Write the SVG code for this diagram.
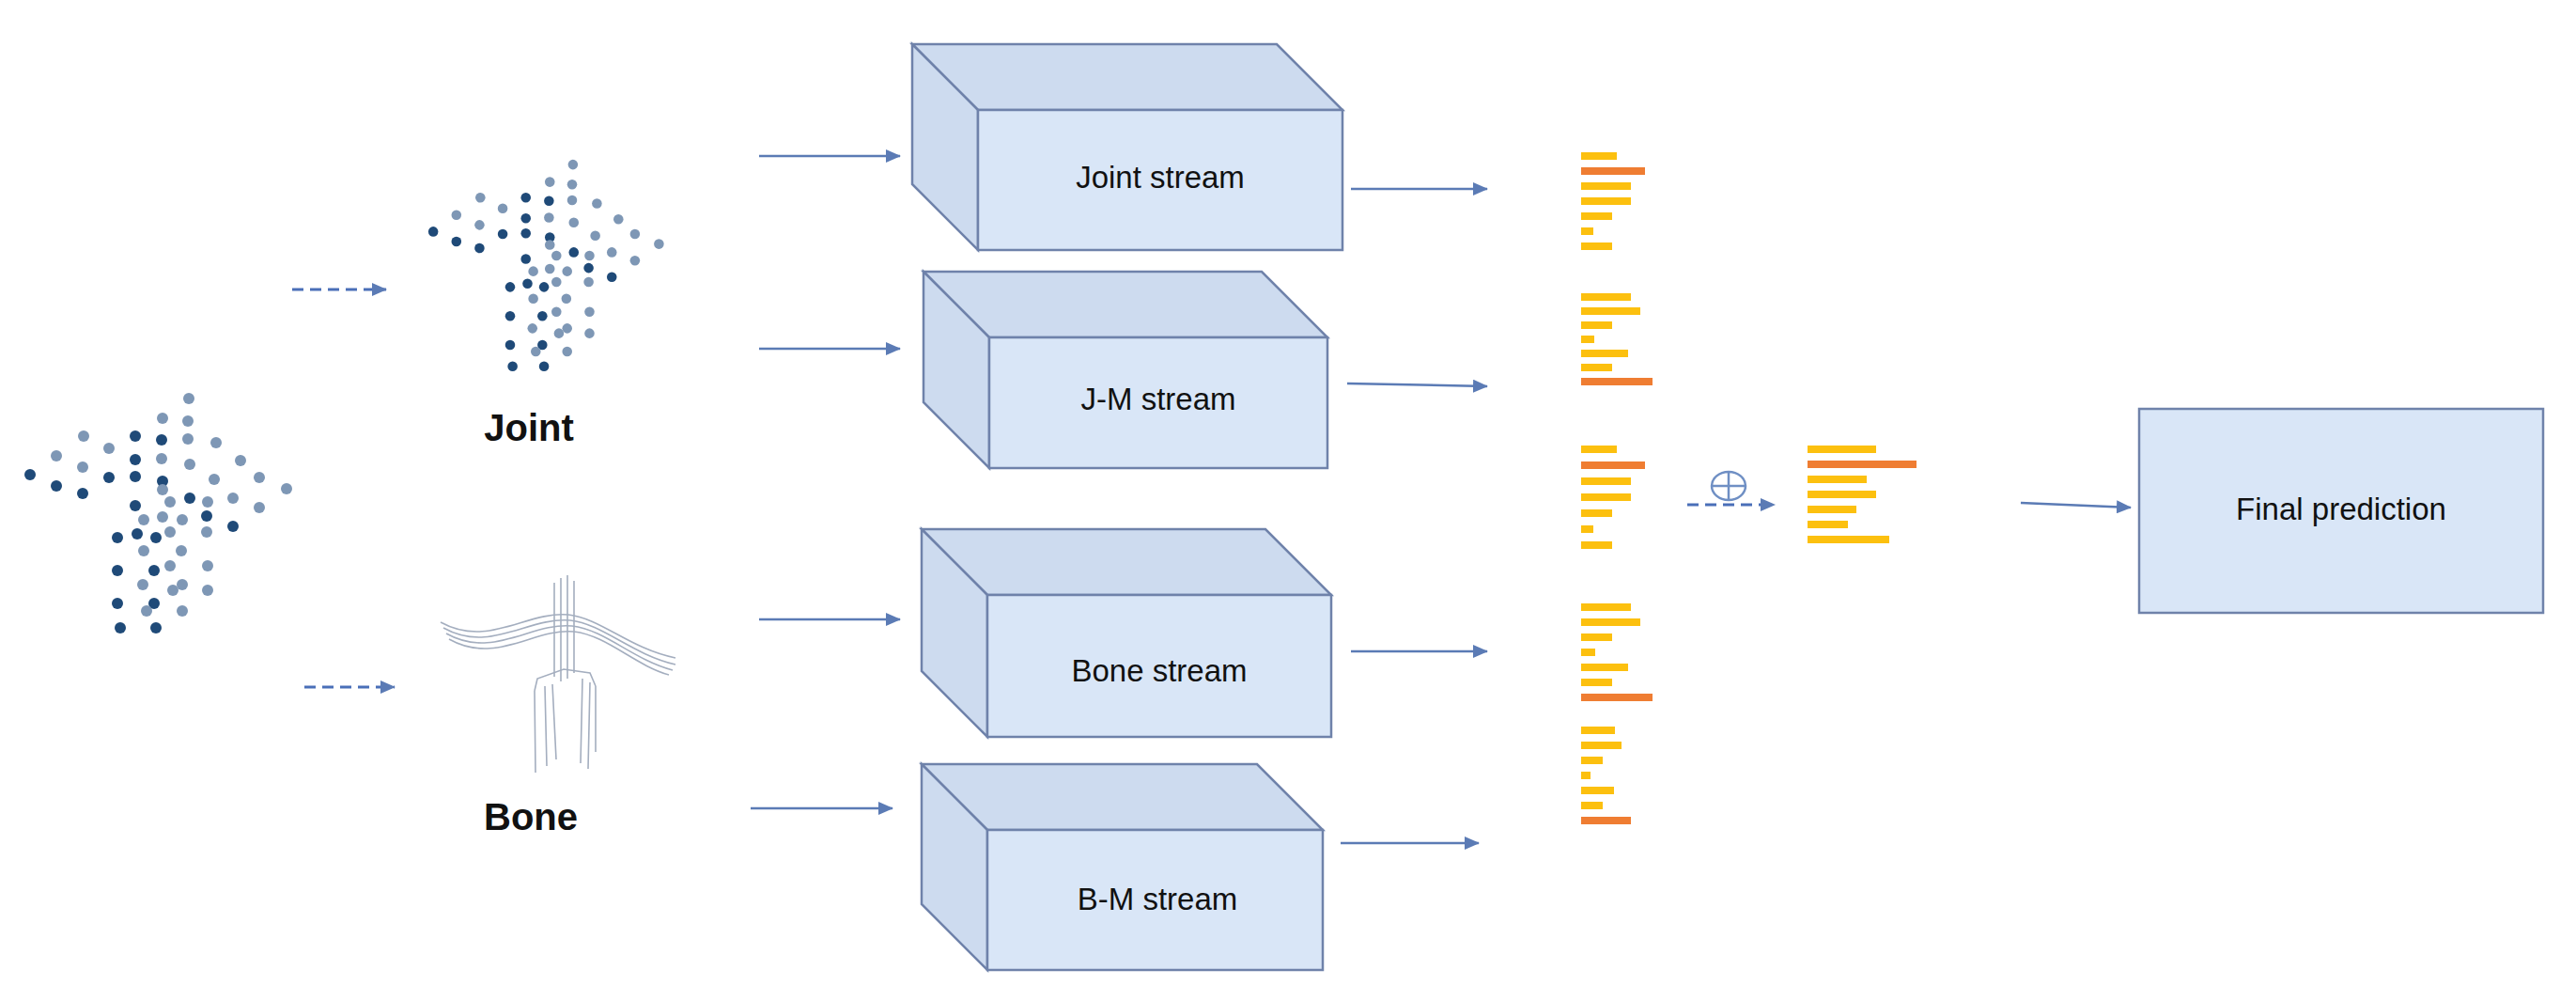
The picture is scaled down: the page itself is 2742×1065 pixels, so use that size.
<svg xmlns="http://www.w3.org/2000/svg" xmlns:xlink="http://www.w3.org/1999/xlink" width="2742" height="1065" viewBox="0 0 2742 1065">
<style>
.face{fill:#d9e6f7;stroke:#6f82aa;stroke-width:2.5}
.side{fill:#cddbef;stroke:#6f82aa;stroke-width:2.5}
.lbl{font-family:"Liberation Sans",Arial,sans-serif;font-size:33px;fill:#111;text-anchor:middle}
.big{font-family:"Liberation Sans",Arial,sans-serif;font-size:40px;font-weight:bold;fill:#111;text-anchor:middle}
.arr{stroke:#5b7bb5;stroke-width:2.5;fill:none;marker-end:url(#ah)}
.dash{stroke:#4a6fb8;stroke-width:3;fill:none;stroke-dasharray:12 7;marker-end:url(#ah)}
.d{fill:#1f4a78}.l{fill:#7e97b5}
.y{fill:#fcc00f}.o{fill:#ef7d32}
.bn{stroke:#a4aebf;stroke-width:1.6;fill:none}
circle{r:6px}
</style>
<defs>
<marker id="ah" markerWidth="16" markerHeight="14" refX="15" refY="7" orient="auto" markerUnits="userSpaceOnUse" viewBox="0 0 16 14"><path d="M0,0 L16,7 L0,14 z" fill="#5b7bb5"/></marker>
<g id="cloud">
<circle class="l" cx="201" cy="424" r="6"/><circle class="l" cx="173" cy="445" r="6"/><circle class="l" cx="200" cy="448" r="6"/>
<circle class="l" cx="89" cy="464" r="6"/><circle class="d" cx="144" cy="464" r="6"/><circle class="d" cx="172" cy="468" r="6"/>
<circle class="l" cx="200" cy="467" r="6"/><circle class="l" cx="116" cy="477" r="6"/><circle class="l" cx="230" cy="471" r="6"/>
<circle class="l" cx="60" cy="485" r="6"/><circle class="d" cx="144" cy="489" r="6"/><circle class="l" cx="172" cy="488" r="6"/>
<circle class="l" cx="202" cy="494" r="6"/><circle class="l" cx="256" cy="490" r="6"/><circle class="d" cx="32" cy="505" r="6"/>
<circle class="l" cx="88" cy="497" r="6"/><circle class="d" cx="116" cy="508" r="6"/><circle class="d" cx="144" cy="507" r="6"/>
<circle class="d" cx="173" cy="512" r="6"/><circle class="l" cx="228" cy="510" r="6"/><circle class="l" cx="276" cy="508" r="6"/>
<circle class="l" cx="305" cy="520" r="6"/><circle class="d" cx="60" cy="517" r="6"/><circle class="d" cx="88" cy="525" r="6"/>
<circle class="l" cx="173" cy="521" r="6"/><circle class="d" cx="202" cy="530" r="6"/><circle class="l" cx="181" cy="534" r="6"/>
<circle class="l" cx="221" cy="534" r="6"/><circle class="l" cx="248" cy="530" r="6"/><circle class="d" cx="144" cy="538" r="6"/>
<circle class="l" cx="153" cy="553" r="6"/><circle class="l" cx="173" cy="550" r="6"/><circle class="l" cx="194" cy="553" r="6"/>
<circle class="d" cx="220" cy="549" r="6"/><circle class="l" cx="276" cy="540" r="6"/><circle class="d" cx="248" cy="560" r="6"/>
<circle class="d" cx="125" cy="572" r="6"/><circle class="d" cx="146" cy="568" r="6"/><circle class="d" cx="166" cy="572" r="6"/>
<circle class="l" cx="181" cy="566" r="6"/><circle class="l" cx="220" cy="566" r="6"/><circle class="l" cx="153" cy="586" r="6"/>
<circle class="l" cx="193" cy="586" r="6"/><circle class="d" cx="125" cy="607" r="6"/><circle class="d" cx="164" cy="607" r="6"/>
<circle class="l" cx="181" cy="602" r="6"/><circle class="l" cx="221" cy="602" r="6"/><circle class="l" cx="152" cy="622" r="6"/>
<circle class="l" cx="194" cy="622" r="6"/><circle class="l" cx="184" cy="628" r="6"/><circle class="l" cx="221" cy="628" r="6"/>
<circle class="d" cx="125" cy="642" r="6"/><circle class="d" cx="164" cy="642" r="6"/><circle class="l" cx="156" cy="650" r="6"/>
<circle class="l" cx="194" cy="650" r="6"/><circle class="d" cx="128" cy="668" r="6"/><circle class="d" cx="166" cy="668" r="6"/>
</g>
</defs>
<rect width="2742" height="1065" fill="#fff"/>

<g id="skeleton-input"><use xlink:href="#cloud" href="#cloud"/></g>
<g id="joint">
<use xlink:href="#cloud" href="#cloud" transform="translate(433,-198) scale(0.88)"/>
<text class="big" x="563" y="469">Joint</text>
</g>
<g id="bone">
<path class="bn" d="M469,662 C520,690 560,650 605,654 C640,658 670,690 719,700"/>
<path class="bn" d="M472,668 C522,696 562,656 607,660 C642,664 672,696 719,707"/>
<path class="bn" d="M475,674 C525,702 565,662 609,666 C644,670 674,702 716,713"/>
<path class="bn" d="M478,680 C528,708 568,668 611,672 C646,676 676,708 712,718"/>
<path class="bn" d="M590,620 L590,720 M597,615 L597,725 M604,612 L604,722 M611,618 L611,716"/>
<path class="bn" d="M569,735 L572,722 L600,712 L628,716 L634,730 M569,735 L570,822 M580,730 L582,815 M588,728 L592,808 M620,722 L618,812 M628,726 L626,818 M634,730 L634,800"/>
<text class="big" x="565" y="883">Bone</text>
</g>

<g id="joint-stream">
<polygon class="side" points="971,47 1359,47 1429,117 1041,117"/>
<polygon class="side" points="971,47 1041,117 1041,266 971,196"/>
<rect class="face" x="1041" y="117" width="388" height="149"/>
<text class="lbl" x="1235" y="200">Joint stream</text>
</g>
<g id="jm-stream">
<polygon class="side" points="983,289 1343,289 1413,359 1053,359"/>
<polygon class="side" points="983,289 1053,359 1053,498 983,428"/>
<rect class="face" x="1053" y="359" width="360" height="139"/>
<text class="lbl" x="1233" y="436">J-M stream</text>
</g>
<g id="bone-stream">
<polygon class="side" points="981,563 1347,563 1417,633 1051,633"/>
<polygon class="side" points="981,563 1051,633 1051,784 981,714"/>
<rect class="face" x="1051" y="633" width="366" height="151"/>
<text class="lbl" x="1234" y="725">Bone stream</text>
</g>
<g id="bm-stream">
<polygon class="side" points="981,813 1338,813 1408,883 1051,883"/>
<polygon class="side" points="981,813 1051,883 1051,1032 981,962"/>
<rect class="face" x="1051" y="883" width="357" height="149"/>
<text class="lbl" x="1232" y="968">B-M stream</text>
</g>
<g id="final-prediction">
<rect class="face" x="2277" y="435" width="430" height="217"/>
<text class="lbl" x="2492" y="553">Final prediction</text>
</g>

<g id="scores">
<g transform="translate(1683,162)">
<rect class="y" x="0" y="0" width="38" height="8"/><rect class="o" x="0" y="16" width="68" height="8"/><rect class="y" x="0" y="32" width="53" height="8"/><rect class="y" x="0" y="48" width="53" height="8"/><rect class="y" x="0" y="64" width="33" height="8"/><rect class="y" x="0" y="80" width="13" height="8"/><rect class="y" x="0" y="96" width="33" height="8"/>
</g>
<g transform="translate(1683,312)">
<rect class="y" x="0" y="0" width="53" height="8"/><rect class="y" x="0" y="15" width="63" height="8"/><rect class="y" x="0" y="30" width="33" height="8"/><rect class="y" x="0" y="45" width="14" height="8"/><rect class="y" x="0" y="60" width="50" height="8"/><rect class="y" x="0" y="75" width="33" height="8"/><rect class="o" x="0" y="90" width="76" height="8"/>
</g>
<g transform="translate(1683,474)">
<rect class="y" x="0" y="0" width="38" height="8"/><rect class="o" x="0" y="17" width="68" height="8"/><rect class="y" x="0" y="34" width="53" height="8"/><rect class="y" x="0" y="51" width="53" height="8"/><rect class="y" x="0" y="68" width="33" height="8"/><rect class="y" x="0" y="85" width="13" height="8"/><rect class="y" x="0" y="102" width="33" height="8"/>
</g>
<g transform="translate(1683,642)">
<rect class="y" x="0" y="0" width="53" height="8"/><rect class="y" x="0" y="16" width="63" height="8"/><rect class="y" x="0" y="32" width="33" height="8"/><rect class="y" x="0" y="48" width="15" height="8"/><rect class="y" x="0" y="64" width="50" height="8"/><rect class="y" x="0" y="80" width="33" height="8"/><rect class="o" x="0" y="96" width="76" height="8"/>
</g>
<g transform="translate(1683,773)">
<rect class="y" x="0" y="0" width="36" height="8"/><rect class="y" x="0" y="16" width="43" height="8"/><rect class="y" x="0" y="32" width="23" height="8"/><rect class="y" x="0" y="48" width="10" height="8"/><rect class="y" x="0" y="64" width="35" height="8"/><rect class="y" x="0" y="80" width="23" height="8"/><rect class="o" x="0" y="96" width="53" height="8"/>
</g>
<g transform="translate(1924,474)">
<rect class="y" x="0" y="0" width="73" height="8"/><rect class="o" x="0" y="16" width="116" height="8"/><rect class="y" x="0" y="32" width="63" height="8"/><rect class="y" x="0" y="48" width="73" height="8"/><rect class="y" x="0" y="64" width="52" height="8"/><rect class="y" x="0" y="80" width="43" height="8"/><rect class="y" x="0" y="96" width="87" height="8"/>
</g>
<g id="oplus" stroke="#6f8fc4" stroke-width="2.5" fill="none">
<ellipse cx="1840" cy="517" rx="18" ry="15"/>
<path d="M1822,517 H1858 M1840,502 V532"/>
</g>
</g>

<g id="connectors">
<path class="dash" d="M311,308 H411"/>
<path class="dash" d="M324,731 H420"/>
<path class="arr" d="M808,166 H958"/>
<path class="arr" d="M808,371 H958"/>
<path class="arr" d="M808,659 H958"/>
<path class="arr" d="M799,860 H950"/>
<path class="arr" d="M1438,201 H1583"/>
<path class="arr" d="M1434,408 L1583,411"/>
<path class="arr" d="M1438,693 H1583"/>
<path class="arr" d="M1427,897 H1574"/>
<path class="dash" d="M1796,537 H1889"/>
<path class="arr" d="M2151,535 L2268,540"/>
</g>
</svg>
